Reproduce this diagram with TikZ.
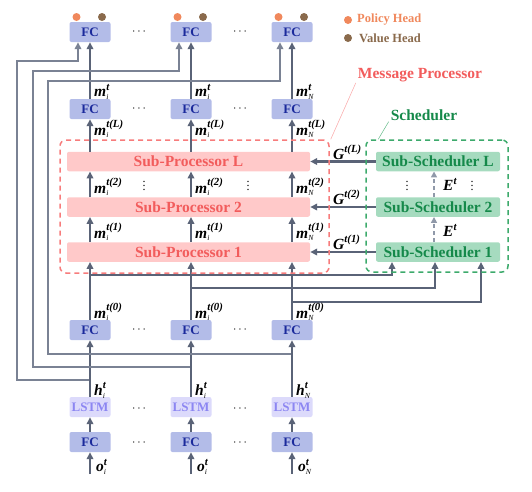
\documentclass[tikz,border=0pt]{standalone}
\usepackage{amsmath}
\usepackage{fontspec}
\setmainfont{Liberation Serif}
\usetikzlibrary{arrows.meta,calc}
\definecolor{fcfill}{HTML}{B3BCE8}
\definecolor{fctext}{HTML}{1B2A9C}
\definecolor{lsfill}{HTML}{DCDAFB}
\definecolor{lstext}{HTML}{8C86F2}
\definecolor{spfill}{HTML}{FFC9C9}
\definecolor{sptext}{HTML}{F25C5C}
\definecolor{ssfill}{HTML}{A6DBBF}
\definecolor{sstext}{HTML}{15894A}
\definecolor{reddash}{HTML}{F77C7C}
\definecolor{greendash}{HTML}{3DAA6C}
\definecolor{darkarr}{HTML}{5A6377}
\definecolor{bypass}{HTML}{7A8294}
\definecolor{lightarr}{HTML}{9099A9}
\definecolor{policy}{HTML}{F0885C}
\definecolor{valuec}{HTML}{8A6A4C}
\newcommand{\vl}[3]{$\textbf{\textit{#1}}^{\textbf{\textit{#2}}}_{\scriptscriptstyle\textit{#3}}$}
\begin{document}
\begin{tikzpicture}[x=1pt,y=-1pt,
  fcbox/.style={fill=fcfill, rounded corners=2pt, minimum width=41pt, minimum height=20pt, inner sep=0pt, font=\bfseries\fontsize{13}{13}\selectfont, text=fctext},
  lstmbox/.style={fill=lsfill, rounded corners=2pt, minimum width=41pt, minimum height=20pt, inner sep=0pt, font=\bfseries\fontsize{13}{13}\selectfont, text=lstext},
  spbox/.style={fill=spfill, rounded corners=2pt, minimum width=243pt, minimum height=19.5pt, inner sep=0pt, font=\bfseries\fontsize{15.5}{15.5}\selectfont, text=sptext},
  ssbox/.style={fill=ssfill, rounded corners=2pt, minimum width=124pt, minimum height=19.5pt, inner sep=0pt, font=\bfseries\fontsize{15.5}{15.5}\selectfont, text=sstext},
  arr/.style={draw=darkarr, line width=2.2pt, -{Triangle[length=7pt,width=6.5pt]}},
  byp/.style={draw=bypass, line width=2pt, -{Triangle[length=7pt,width=6.5pt]}},
  earr/.style={draw=lightarr, line width=1.6pt, dash pattern=on 4pt off 3pt, -{Triangle[length=6pt,width=6pt]}},
  lab/.style={anchor=base west, inner sep=0pt, font=\fontsize{15.5}{15.5}\selectfont},
  dots/.style={inner sep=0pt, font=\fontsize{12}{12}\selectfont},
  leg/.style={anchor=west, inner sep=0pt, font=\bfseries\fontsize{12.5}{12.5}\selectfont},
  title/.style={inner sep=0pt, font=\bfseries\fontsize{15.5}{15.5}\selectfont},
  headdot/.style={circle, inner sep=0pt, minimum size=8pt}
]
\useasboundingbox (0,0) rectangle (532,491);

% sub-processors and sub-schedulers
\node[spbox] (spL) at (188.5,161.5) {Sub-Processor L};
\node[spbox] (sp2) at (188.5,207) {Sub-Processor 2};
\node[spbox] (sp1) at (188.5,252) {Sub-Processor 1};
\node[ssbox] (ssL) at (438,161.5) {Sub-Scheduler L};
\node[ssbox] (ss2) at (438,207) {Sub-Scheduler 2};
\node[ssbox] (ss1) at (438,252) {Sub-Scheduler 1};

% columns
\foreach \i/\x/\s/\hj/\lx/\ty/\sj/\sx in {1/90/i/17/17/61/45/-46, 2/191/i/30/33/71/32/-3, 3/292/N/43/48/81/18/43}{
  \node[fcbox] (top\i) at (\x,32) {FC};
  \node[fcbox] (fcl\i) at (\x,109) {FC};
  \node[fcbox] (fcz\i) at (\x,330) {FC};
  \node[lstmbox] (lstm\i) at (\x,407) {LSTM};
  \node[fcbox] (fcin\i) at (\x,442) {FC};
  \coordinate (o\i) at (\x,474);
  \node[headdot, fill=policy] (pol\i) at (\x-13.5,17) {};
  \node[headdot, fill=valuec] (val\i) at (\x+12,17) {};
  % bypass from h to top FC
  \draw[byp] ($(lstm\i.north)+(0,-\hj)$) -| (\lx,\ty) -| ([xshift=-12pt]top\i.south);
  % scheduler inputs
  \draw[arr] ($(fcz\i.north)+(0,-\sj)$) -| ([xshift=\sx pt]ss1.south);
  % main column
  \draw[arr] (o\i) -- (fcin\i.south);
  \draw[arr] (fcin\i.north) -- (lstm\i.south);
  \draw[arr] (lstm\i.north) -- (fcz\i.south);
  \draw[arr] (fcz\i.north) -- (fcz\i.north |- sp1.south);
  \draw[arr] (fcz\i.north |- sp1.north) -- (fcz\i.north |- sp2.south);
  \draw[arr] (fcz\i.north |- sp2.north) -- (fcz\i.north |- spL.south);
  \draw[arr] (fcl\i.south |- spL.north) -- (fcl\i.south);
  \draw[arr] (fcl\i.north) -- (top\i.south);
  % labels
  \node[lab] (lm\i) at (\x+4,96) {\vl{m}{t}{\s}};
  \node[lab] (lmL\i) at (\x+4,135) {\vl{m}{t(L)}{\s}};
  \node[lab] (lm2\i) at (\x+4,193) {\vl{m}{t(2)}{\s}};
  \node[lab] (lm1\i) at (\x+4,238) {\vl{m}{t(1)}{\s}};
  \node[lab] (lm0\i) at (\x+4,318) {\vl{m}{t(0)}{\s}};
  \node[lab] (lh\i) at (\x+4,395) {\vl{h}{t}{\s}};
  \node[lab] (lo\i) at (\x+6,471) {\vl{o}{t}{\s}};
}

% horizontal dots between columns
\foreach \r/\y in {a/32, b/109, c/330, d/409, e/443}{
  \node[dots] (hd1\r) at (140,\y) {$\cdots$};
  \node[dots] (hd2\r) at (241,\y) {$\cdots$};
}
% vertical dots
\node[dots] (vd1) at (144,183) {$\vdots$};
\node[dots] (vd2) at (248,183) {$\vdots$};
\node[dots] (vd3) at (407,183) {$\vdots$};
\node[dots] (vd4) at (472,183) {$\vdots$};

% scheduler to processor
\draw[arr] (ssL.west) -- (ssL.west -| spL.east);
\draw[arr] (ss2.west) -- (ss2.west -| sp2.east);
\draw[arr] (ss1.west) -- (ss1.west -| sp1.east);
\node[lab] (gL) at (333,159) {$\textbf{\textit{G}}^{\textbf{\textit{t(L)}}}$};
\node[lab] (g2) at (333,204) {$\textbf{\textit{G}}^{\textbf{\textit{t(2)}}}$};
\node[lab] (g1) at (333,249) {$\textbf{\textit{G}}^{\textbf{\textit{t(1)}}}$};

% E arrows
\draw[earr] ([xshift=-4pt]ss1.north) -- ([xshift=-4pt]ss2.south);
\draw[earr] ([xshift=-4pt]ss2.north) -- ([xshift=-4pt]ssL.south);
\node[lab] (e1) at (443,236) {$\textbf{\textit{E}}^{\textbf{\textit{t}}}$};
\node[lab] (e2) at (443,190) {$\textbf{\textit{E}}^{\textbf{\textit{t}}}$};

% dashed groups
\node[draw=reddash, line width=1.5pt, dash pattern=on 5pt off 4pt, rounded corners=6pt, minimum width=269pt, minimum height=133pt, inner sep=0pt] (mp) at (194.5,206.5) {};
\node[draw=greendash, line width=1.5pt, dash pattern=on 5pt off 4pt, rounded corners=6pt, minimum width=142pt, minimum height=132pt, inner sep=0pt] (sch) at (437,206) {};

\node[title, text=sptext] (mplab) at (420,75) {Message Processor};
\node[title, text=sstext] (schlab) at (424,115) {Scheduler};
\draw[draw=reddash!70, line width=0.5pt] ([xshift=1pt]mp.north east) -- ([xshift=-2pt,yshift=-1pt]mplab.south west);
\draw[draw=greendash!80, line width=0.5pt] ([xshift=13pt]sch.north west) -- ([xshift=-2pt,yshift=-1pt]schlab.south west);

% legend
\node[headdot, fill=policy] (legp) at (348,20) {};
\node[leg, text=policy] (legpt) at (357,20) {Policy Head};
\node[headdot, fill=valuec] (legv) at (348,38) {};
\node[leg, text=valuec] (legvt) at (359,38) {Value Head};
\end{tikzpicture}
\end{document}
